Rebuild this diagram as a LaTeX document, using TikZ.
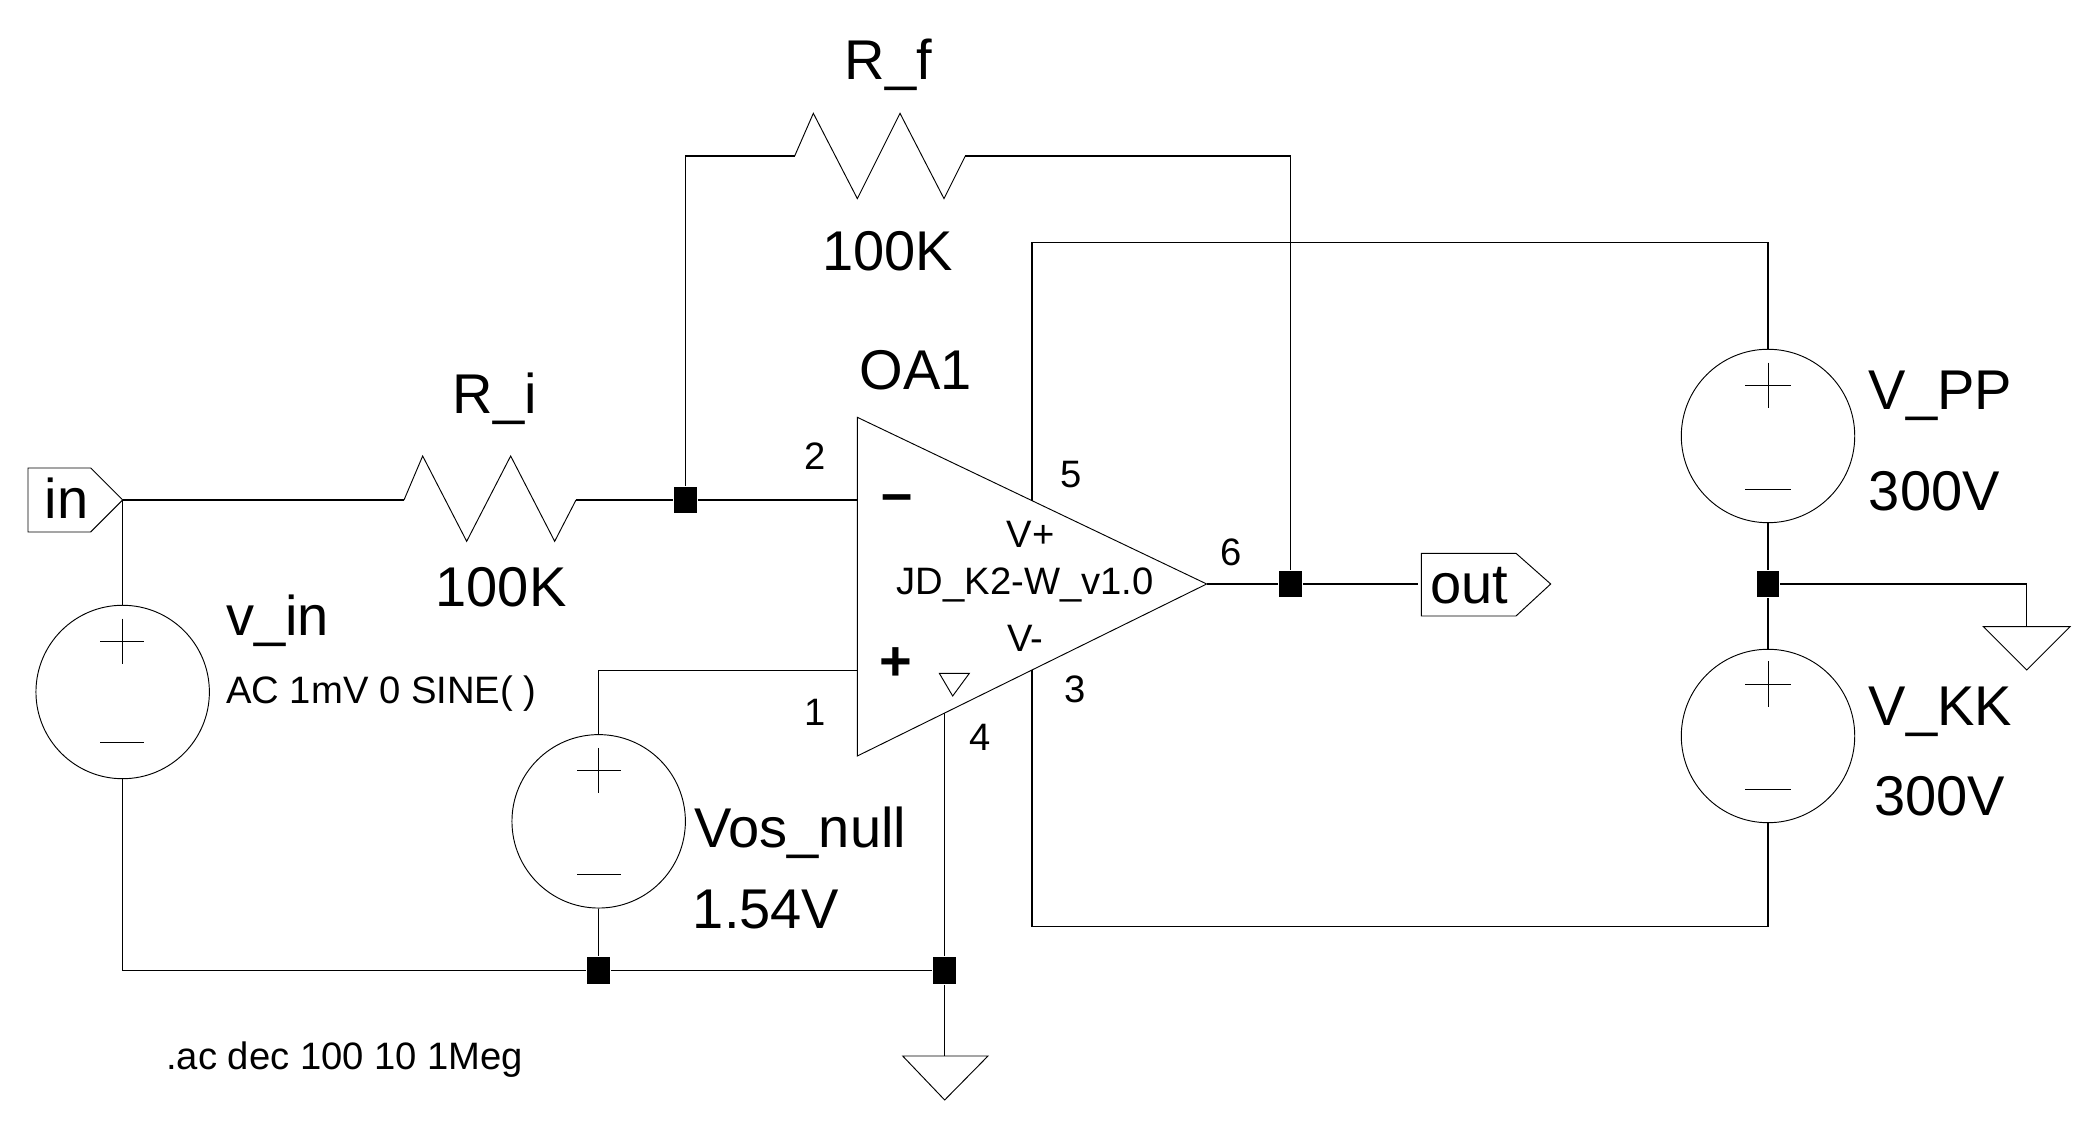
\documentclass[tikz,border=0pt]{standalone}
\usepackage{fontspec}
\setmainfont{Liberation Sans}

\tikzset{
  wire/.style={line width=0.3pt},
  symbolline/.style={line width=0.2pt},
  junction/.style={rectangle, fill=black, inner sep=0pt, minimum width=0.17cm, minimum height=0.2cm},
  source/.style={circle, draw, line width=0.2pt, inner sep=0pt, minimum size=1.3cm},
  bigtext/.style={inner sep=0pt, anchor=base west, font=\fontsize{11.95}{14}\selectfont},
  smalltext/.style={inner sep=0pt, font=\fontsize{8.15}{10}\selectfont}
}

\begin{document}
\begin{tikzpicture}[x=0.01cm, y=-0.01cm]

\useasboundingbox (0,0) rectangle (1567.5,858.75) ;

%%%%%%%%%% Points pour travailler %%%%%%%%%%

 \coordinate (inTip) at (92,375) ;
 \coordinate (inBot) at (92,728) ;
 \coordinate (RiLeft) at (303,375) ;
 \coordinate (RiRight) at (432,375) ;
 \coordinate (RfCornerL) at (514,117) ;
 \coordinate (RfLeft) at (596,117) ;
 \coordinate (RfRight) at (724,117) ;
 \coordinate (RfCornerR) at (968,117) ;

 \coordinate (OAtop) at (643,313) ;
 \coordinate (OAbot) at (643,567) ;
 \coordinate (OAout) at (905,438) ;
 \coordinate (OAminus) at (643,375) ;
 \coordinate (OAplus) at (643,503) ;
 \coordinate (OAvp) at (774,375.5) ;
 \coordinate (OAvm) at (774,502.5) ;
 \coordinate (OAgnd) at (708.5,535) ;

 \coordinate (VosCorner) at (449,503) ;
 \coordinate (railTopL) at (774,182) ;
 \coordinate (railTopR) at (1326,182) ;
 \coordinate (railBotL) at (774,695) ;
 \coordinate (railBotR) at (1326,695) ;
 \coordinate (gndCorner) at (1520,438) ;
 \coordinate (gndRight) at (1520,470) ;
 \coordinate (gndBot) at (708.5,792) ;

%%%%%%%%%%% Sources %%%%%%%%%%%
 \node [source] (vin) at (92,519) {} ;
 \node [source] (vos) at (449,616) {} ;
 \node [source] (vpp) at (1326,327) {} ;
 \node [source] (vkk) at (1326,552) {} ;

 \draw [symbolline] (75,481) -- (108,481) (92,464) -- (92,498) (75,557) -- (108,557) ;
 \draw [symbolline] (433,578) -- (466,578) (449,561) -- (449,595) (433,656) -- (466,656) ;
 \draw [symbolline] (1309,289) -- (1343,289) (1326,272) -- (1326,306) (1309,367) -- (1343,367) ;
 \draw [symbolline] (1309,513) -- (1343,513) (1326,496) -- (1326,530) (1309,592) -- (1343,592) ;

%%%%%%%%%%% Junctions %%%%%%%%%%%
 \node [junction] (nodeA) at (514,375) {} ;
 \node [junction] (nodeB) at (968,438) {} ;
 \node [junction] (nodeC) at (1326,438) {} ;
 \node [junction] (nodeD) at (449,728) {} ;
 \node [junction] (nodeE) at (708.5,728) {} ;

%%%%%%%%%%% Wires %%%%%%%%%%%
 \draw [wire] (inTip) -- (RiLeft) ;
 \draw [wire] (RiRight) -- (nodeA) -- (OAminus) ;
 \draw [wire] (nodeA) -- (RfCornerL) -- (RfLeft) ;
 \draw [wire] (RfRight) -- (RfCornerR) -- (nodeB) ;
 \draw [wire] (OAout) -- (nodeB) ;
 \draw [wire] (inTip) -- (vin.north) ;
 \draw [wire] (vin.south) -- (inBot) -- (nodeD) -- (nodeE) ;
 \draw [wire] (OAplus) -- (VosCorner) -- (vos.north) ;
 \draw [wire] (vos.south) -- (nodeD) ;
 \draw [wire] (OAgnd) -- (nodeE) -- (gndBot) ;
 \draw [wire] (OAvp) -- (railTopL) -- (railTopR) -- (vpp.north) ;
 \draw [wire] (vpp.south) -- (nodeC) -- (vkk.north) ;
 \draw [wire] (vkk.south) -- (railBotR) -- (railBotL) -- (OAvm) ;
 \draw [wire] (nodeC) -- (gndCorner) -- (gndRight) ;

%%%%%%%%%%% Resistors %%%%%%%%%%%
 \draw [symbolline] (RiLeft) -- (317,342) -- (350,406) -- (383,342) -- (416,406) -- (RiRight) ;
 \draw [symbolline] (RfLeft) -- (610,85) -- (643,149) -- (675,85) -- (708,149) -- (RfRight) ;

%%%%%%%%%%% Op amp, grounds, ports %%%%%%%%%%%
 \draw [symbolline] (OAtop) -- (OAout) -- (OAbot) -- cycle ;
 \draw [symbolline] (704.5,505) -- (727,505) -- (714.5,522) -- cycle ;
 \draw [symbolline] (677,792) -- (741,792) -- (708.5,825) -- cycle ;
 \draw [symbolline] (1487.5,470) -- (1552.5,470) -- (1520,502.5) -- cycle ;
 \draw [symbolline] (21,351) -- (68,351) -- (inTip) -- (68,399) -- (21,399) -- cycle ;
 \draw [symbolline] (1066,415) -- (1137,415) -- (1163,438) -- (1137,462) -- (1066,462) -- cycle ;
 \node (outPort) at (1066,438) [inner sep=0pt] {} ;
 \draw [wire] (nodeB) -- (outPort) ;

%%%%%%%%%%% Labels %%%%%%%%%%%
 \node [bigtext] (inLabel) at (33,389) {in} ;
 \node [bigtext] (outLabel) at (1072,453) {out} ;
 \node [bigtext] (RiName) at (339,310) {R\_i} ;
 \node [bigtext] (RiValue) at (326,455) {100K} ;
 \node [bigtext] (RfName) at (633,60) {R\_f} ;
 \node [bigtext] (RfValue) at (616,203) {100K} ;
 \node [bigtext] (OAname) at (644,292) {OA1} ;
 \node [bigtext] (vinName) at (169,477) {v\_in} ;
 \node [bigtext] (vosName) at (520,636) {Vos\_null} ;
 \node [bigtext] (vosValue) at (519,696) {1.54V} ;
 \node [bigtext] (vppName) at (1401,307) {V\_PP} ;
 \node [bigtext] (vppValue) at (1401,383) {300V} ;
 \node [bigtext] (vkkName) at (1401,544) {V\_KK} ;
 \node [bigtext] (vkkValue) at (1405,612) {300V} ;

 \node [bigtext, anchor=center, font=\fontsize{11.95}{14}\selectfont\bfseries] (minusSign) at (673,378) {–} ;
 \node [bigtext, anchor=center, font=\fontsize{11.95}{14}\selectfont\bfseries] (plusSign) at (672,498) {+} ;

 \node [smalltext, anchor=base west] (vinValue) at (169,528) {AC 1mV 0 SINE( )} ;
 \node [smalltext, anchor=base west] (acLine) at (124,802) {.ac dec 100 10 1Meg} ;
 \node [smalltext] (modelName) at (769,438.5) {JD\_K2-W\_v1.0} ;
 \node [smalltext] (vPlus) at (773,401) {V+} ;
 \node [smalltext] (vMinus) at (769,479) {V-} ;
 \node [smalltext] (pinTwo) at (611,342) {2} ;
 \node [smalltext] (pinFive) at (803,356) {5} ;
 \node [smalltext] (pinSix) at (923,414) {6} ;
 \node [smalltext] (pinOne) at (611,534) {1} ;
 \node [smalltext] (pinThree) at (806,517) {3} ;
 \node [smalltext] (pinFour) at (735,553) {4} ;

\end{tikzpicture}
\end{document}
